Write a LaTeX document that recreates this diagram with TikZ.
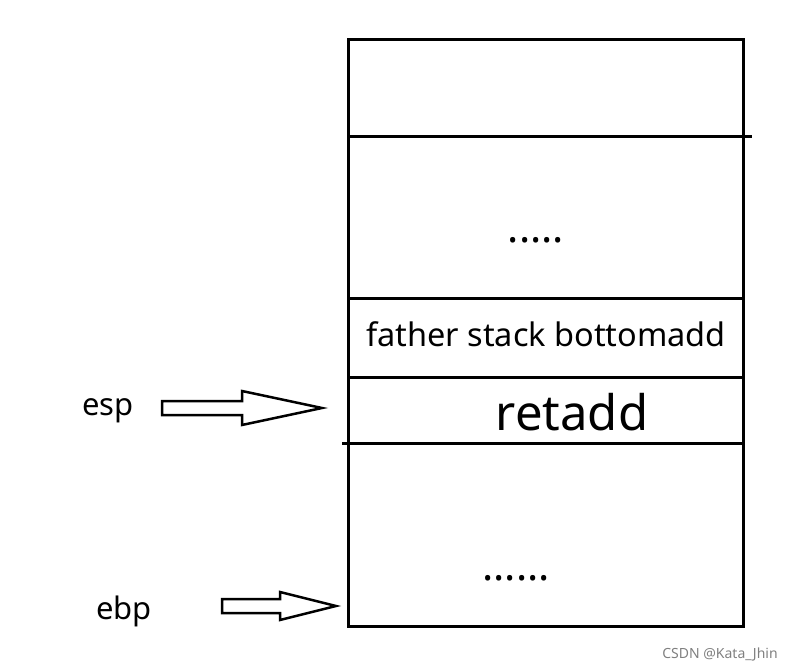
\documentclass[tikz,border=0pt]{standalone}
\usepackage{fontspec}
\setmainfont{Noto Sans}
\begin{document}
\begin{tikzpicture}[x=1pt,y=-1pt,line width=3pt,
 arr/.style={line width=2.5pt,line join=miter},
 lbl/.style={font=\fontsize{31}{34}\selectfont},
 dots/.style={font=\fontsize{42}{44}\selectfont}]
\useasboundingbox (0,0) rectangle (798,671);
\draw (348,40) rectangle (743,626);
\draw (348,137) -- (752,137);
\draw (348,298) -- (743,298);
\draw (348,377) -- (743,377);
\draw (342,443) -- (743,443);
\node[dots] (d1) at (536,240) {.....};
\node[font=\fontsize{32.5}{36}\selectfont] (f) at (546,334) {father stack bottomadd};
\node[font=\fontsize{49}{52}\selectfont] (r) at (572,412) {retadd};
\node[dots] (d2) at (516,578) {......};
\node[lbl] (esp) at (108,411) {esp};
\node[lbl] (ebp) at (124,611) {ebp};
\draw[arr] (162,401) -- (242,401) -- (242,391) -- (322,408) -- (242,425) -- (242,415) -- (162,415) -- cycle;
\draw[arr] (222,599) -- (280,599) -- (280,592) -- (336,606) -- (280,620) -- (280,613) -- (222,613) -- cycle;
\node[font=\fontsize{14}{16}\selectfont,text=gray] (wm) at (720,655) {CSDN @Kata\_Jhin};
\end{tikzpicture}
\end{document}
